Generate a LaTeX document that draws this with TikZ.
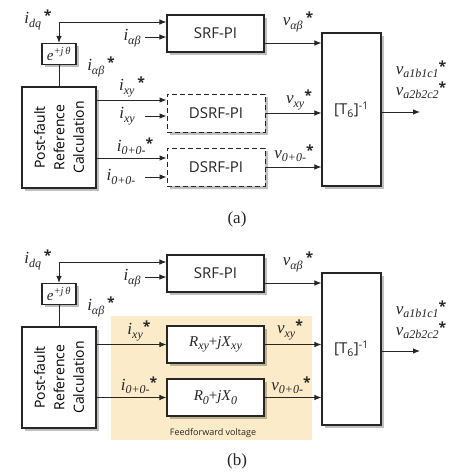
\documentclass[tikz,border=0pt]{standalone}
\usepackage{fontspec}
\setmainfont{Liberation Serif}
\setsansfont{Open Sans}
\usetikzlibrary{arrows.meta,shadows}
\definecolor{ink}{HTML}{262626}
\definecolor{ffyellow}{HTML}{FCEBC8}
\newcommand\sg[2]{\textit{#1}{\fontsize{12}{12}\selectfont\raisebox{-0.28em}{\textit{#2}}}}
\newcommand\st{\raisebox{0.18em}{\sffamily\bfseries\fontsize{14}{14}\selectfont *}}
\tikzset{
  shd/.style={drop shadow={shadow xshift=2.5pt,shadow yshift=-2.5pt,fill=black,opacity=0.25,draw=none}},
  blk/.style={draw=ink,line width=1.1pt,fill=white,shd,inner sep=0pt,
    font=\sffamily\fontsize{15}{15}\selectfont,text=ink},
  dblk/.style={blk,line width=0.9pt,dash pattern=on 5pt off 3pt},
  arr/.style={draw=ink,line width=0.9pt,-{Latex[length=7pt,width=5.5pt]}},
  ln/.style={draw=ink,line width=0.9pt},
  lbl/.style={font=\fontsize{17}{17}\selectfont,text=ink,inner sep=0pt},
  pftxt/.style={font=\sffamily\fontsize{14}{19.5}\selectfont,align=center,rotate=90}
}
\begin{document}
\begin{tikzpicture}[x=1pt,y=-1pt]
\useasboundingbox (0,0) rectangle (474,474);
\fill[white] (0,0) rectangle (474,474);

% ===================== (a) =====================
\node[blk,minimum width=97pt,minimum height=37pt] (srfa) at (215.5,33.5) {SRF-PI};
\node[blk,minimum width=34pt,minimum height=21pt,font=\fontsize{15}{15}\selectfont] (ea) at (59,54) {\textit{e}\textsuperscript{\textit{+j}\,\textit{θ}}};
\node[blk,minimum width=74pt,minimum height=101pt] (pfa) at (59,137.5) {};
\node[pftxt] (pfta) at (59,137.5) {Post-fault\\Reference\\Calculation};
\node[dblk,minimum width=98pt,minimum height=38pt] (d1a) at (216,113) {DSRF-PI};
\node[dblk,minimum width=98pt,minimum height=38pt] (d2a) at (216,167) {DSRF-PI};
\node[blk,minimum width=59pt,minimum height=153pt] (t6a) at (351.5,109.5) {[T\textsubscript{6}]\textsuperscript{-1}};

\coordinate (dqa) at (59,22);
\coordinate (iaba) at (145,37);
\coordinate (ixya) at (145,116);
\coordinate (i0a) at (145,177);
\coordinate (outa) at (420,112);

\draw[arr] (dqa) -- (dqa -| srfa.west);
\draw[arr] (iaba) -- (iaba -| srfa.west);
\draw[arr] (dqa) -- (ea.north);
\draw[ln] (ea.south) -- (pfa.north);
\draw[arr] (pfa.east |- 0,100) -- (d1a.west |- 0,100);
\draw[arr] (ixya) -- (ixya -| d1a.west);
\draw[arr] (pfa.east |- 0,158) -- (d2a.west |- 0,158);
\draw[arr] (i0a) -- (i0a -| d2a.west);
\draw[arr] (srfa.east |- 0,43) -- (t6a.west |- 0,43);
\draw[arr] (d1a.east) -- (d1a.east -| t6a.west);
\draw[arr] (d2a.east) -- (d2a.east -| t6a.west);
\draw[arr] (t6a.east |- outa) -- (outa);

\node[lbl] (l1) at (38,20) {\sg{i}{dq}\,\st};
\node[lbl] (l2) at (132,38) {\sg{i}{αβ}};
\node[lbl] (l3) at (101,67) {\sg{i}{αβ}\,\st};
\node[lbl] (l4) at (132,87) {\sg{i}{xy}\,\st};
\node[lbl] (l5) at (127,116) {\sg{i}{xy}};
\node[lbl] (l6) at (135,146) {\sg{i}{0+0-}\st};
\node[lbl] (l7) at (121,177) {\sg{i}{0+0-}};
\node[lbl] (l8) at (298,22) {\sg{v}{αβ}\,\st};
\node[lbl] (l9) at (299,100) {\sg{v}{xy}\st};
\node[lbl] (l10) at (294,153) {\sg{v}{0+0-}\st};
\node[lbl] (l11) at (421,69) {\sg{v}{a1b1c1}\st};
\node[lbl] (l12) at (421,90) {\sg{v}{a2b2c2}\st};
\node[lbl] (capa) at (237,219) {(a)};

% ===================== (b) =====================
\fill[ffyellow] (111,316) rectangle (312,440);
\node[font=\sffamily\fontsize{9}{9}\selectfont,text=ink] (ff) at (213,433) {Feedforward voltage};

\node[blk,minimum width=97pt,minimum height=37pt] (srfb) at (215.5,273.5) {SRF-PI};
\node[blk,minimum width=34pt,minimum height=21pt,font=\fontsize{15}{15}\selectfont] (eb) at (59,294) {\textit{e}\textsuperscript{\textit{+j}\,\textit{θ}}};
\node[blk,minimum width=74pt,minimum height=101pt] (pfb) at (59,377.5) {};
\node[pftxt] (pftb) at (59,377.5) {Post-fault\\Reference\\Calculation};
\node[blk,minimum width=97pt,minimum height=37pt,font=\fontsize{15}{15}\selectfont] (rxy) at (215.5,344.5) {\sg{R}{xy}+\textit{j}\sg{X}{xy}};
\node[blk,minimum width=97pt,minimum height=37pt,font=\fontsize{15}{15}\selectfont] (r0) at (215.5,397.5) {\sg{R}{0}+\textit{j}\sg{X}{0}};
\node[blk,minimum width=59pt,minimum height=152pt] (t6b) at (351.5,349) {[T\textsubscript{6}]\textsuperscript{-1}};

\coordinate (dqb) at (59,262);
\coordinate (iabb) at (145,277);
\coordinate (outb) at (420,351);

\draw[arr] (dqb) -- (dqb -| srfb.west);
\draw[arr] (iabb) -- (iabb -| srfb.west);
\draw[arr] (dqb) -- (eb.north);
\draw[ln] (eb.south) -- (pfb.north);
\draw[arr] (pfb.east |- rxy.west) -- (rxy.west);
\draw[arr] (pfb.east |- r0.west) -- (r0.west);
\draw[arr] (srfb.east |- 0,283) -- (t6b.west |- 0,283);
\draw[arr] (rxy.east) -- (rxy.east -| t6b.west);
\draw[arr] (r0.east) -- (r0.east -| t6b.west);
\draw[arr] (t6b.east |- outb) -- (outb);

\node[lbl] (m1) at (38,260) {\sg{i}{dq}\,\st};
\node[lbl] (m2) at (132,278) {\sg{i}{αβ}};
\node[lbl] (m3) at (101,307) {\sg{i}{αβ}\,\st};
\node[lbl] (m4) at (139,331) {\sg{i}{xy}\st};
\node[lbl] (m5) at (139,385) {\sg{i}{0+0-}\st};
\node[lbl] (m6) at (298,262) {\sg{v}{αβ}\,\st};
\node[lbl] (m7) at (290,330) {\sg{v}{xy}\st};
\node[lbl] (m8) at (291,385) {\sg{v}{0+0-}\st};
\node[lbl] (m9) at (421,309) {\sg{v}{a1b1c1}\st};
\node[lbl] (m10) at (421,330) {\sg{v}{a2b2c2}\st};
\node[lbl] (capb) at (237,461) {(b)};
\end{tikzpicture}
\end{document}
